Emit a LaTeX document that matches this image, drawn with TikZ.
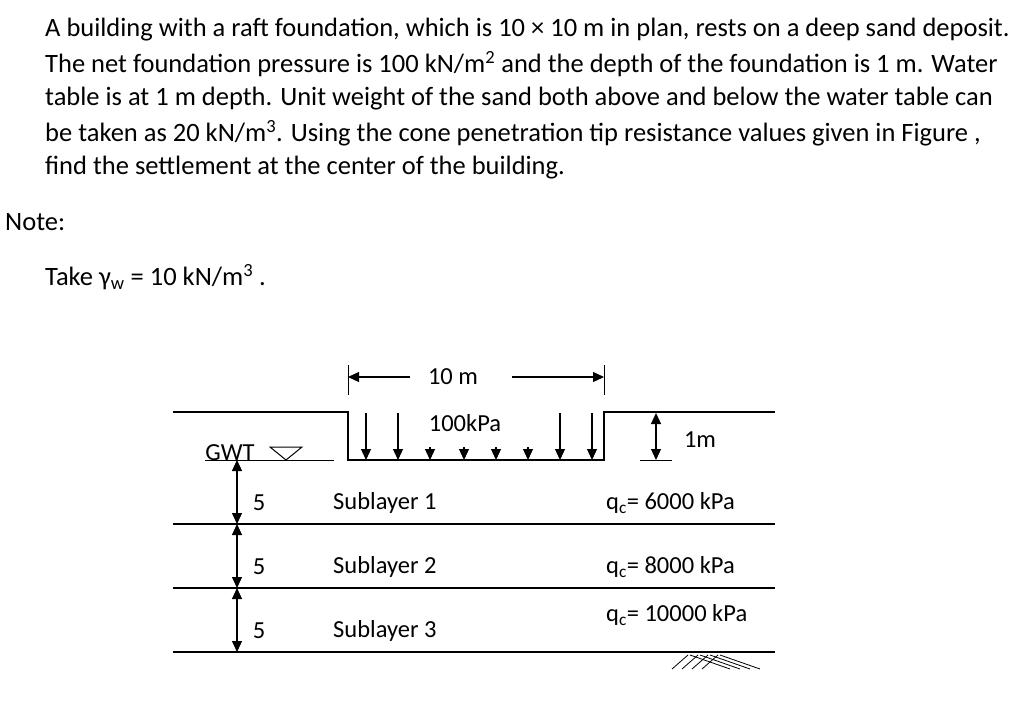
\documentclass[tikz,border=0pt]{standalone}
\usepackage{fontspec}
\setmainfont{Carlito}
\usetikzlibrary{arrows.meta}
\begin{document}
\begin{tikzpicture}[x=1pt,y=-1pt,
  txt/.style={anchor=west,inner sep=0pt,font=\fontsize{26.5}{30}\selectfont},
  lab/.style={inner sep=0pt,font=\fontsize{24.5}{28}\selectfont},
  ln/.style={line width=1.3pt},
  arr/.style={line width=1.2pt,-{Triangle[length=11pt,width=10pt]}},
  darr/.style={line width=1.2pt,{Triangle[length=11pt,width=10pt]}-{Triangle[length=11pt,width=10pt]}}]
\useasboundingbox (0,0) rectangle (1024,706);
\node[txt] (l1) at (45,30) {A building with a raft foundation, which is 10 × 10 m in plan, rests on a deep sand deposit.};
\node[txt] (l2) at (45,64) {The net foundation pressure is 100 kN/m\textsuperscript{2} and the depth of the foundation is 1 m. Water};
\node[txt] (l3) at (45,99) {table is at 1 m depth. Unit weight of the sand both above and below the water table can};
\node[txt] (l4) at (45,133) {be taken as 20 kN/m\textsuperscript{3}. Using the cone penetration tip resistance values given in Figure ,};
\node[txt] (l5) at (45,168) {find the settlement at the center of the building.};
\node[txt] (note) at (5,222) {Note:};
\node[txt] (take) at (45,277) {Take γ\textsubscript{w} = 10 kN/m\textsuperscript{3} .};
% ground and foundation
\draw[ln] (173,412) -- (348,412) -- (348,460) -- (604,460) -- (604,412) -- (775,412);
% 10 m dimension
\draw[line width=1pt] (348,365) -- (348,395);
\draw[line width=1pt] (604,365) -- (604,395);
\node[lab] (ten) at (453,377) {10 m};
\coordinate (dl) at (348,377);
\coordinate (dr) at (604,377);
\draw[arr] (410,377) -- (dl);
\draw[arr] (512,377) -- (dr);
\node[lab] (p) at (465,423) {100kPa};
% load arrows
\foreach \x in {366,398,560,592} \draw[arr] (\x,413) -- (\x,460);
\foreach \x in {430,464,496,528} \draw[arr] (\x,447) -- (\x,460);
% 1m
\coordinate (ta) at (656,413);
\coordinate (tb) at (656,460);
\draw[line width=1pt] (640,460) -- (672,460);
\draw[darr] (ta) -- (tb);
\node[lab] (one) at (700,440) {1m};
% GWT
\draw[line width=1pt] (205,460) -- (334,460);
\node[lab] (gwt) at (230,453) {GWT};
\draw[line width=1pt] (270,447) -- (302,447) -- (286,460) -- cycle;
% layers
\draw[ln] (173,524) -- (775,524);
\draw[ln] (173,588) -- (775,588);
\draw[ln] (173,652) -- (775,652);
\coordinate (a0) at (237,460);
\coordinate (a1) at (237,524);
\coordinate (a2) at (237,588);
\coordinate (a3) at (237,652);
\draw[darr] (a0) -- (a1);
\draw[darr] (a1) -- (a2);
\draw[darr] (a2) -- (a3);
\node[lab] (f1) at (259,503) {5};
\node[lab] (f2) at (259,567) {5};
\node[lab] (f3) at (259,631) {5};
\node[lab,anchor=west] (s1) at (333,503) {Sublayer 1};
\node[lab,anchor=west] (s2) at (333,567) {Sublayer 2};
\node[lab,anchor=west] (s3) at (333,631) {Sublayer 3};
\node[lab,anchor=west] (q1) at (606,503) {q\textsubscript{c}= 6000 kPa};
\node[lab,anchor=west] (q2) at (606,567) {q\textsubscript{c}= 8000 kPa};
\node[lab,anchor=west] (q3) at (606,615) {q\textsubscript{c}= 10000 kPa};
% hatch
\foreach \x in {672,682,692,702} \draw[line width=0.8pt] (\x,669) -- (\x+16,655);
\foreach \x in {690,700,710,720} \draw[line width=0.8pt] (\x,655) -- (\x+40,669);
\end{tikzpicture}
\end{document}
